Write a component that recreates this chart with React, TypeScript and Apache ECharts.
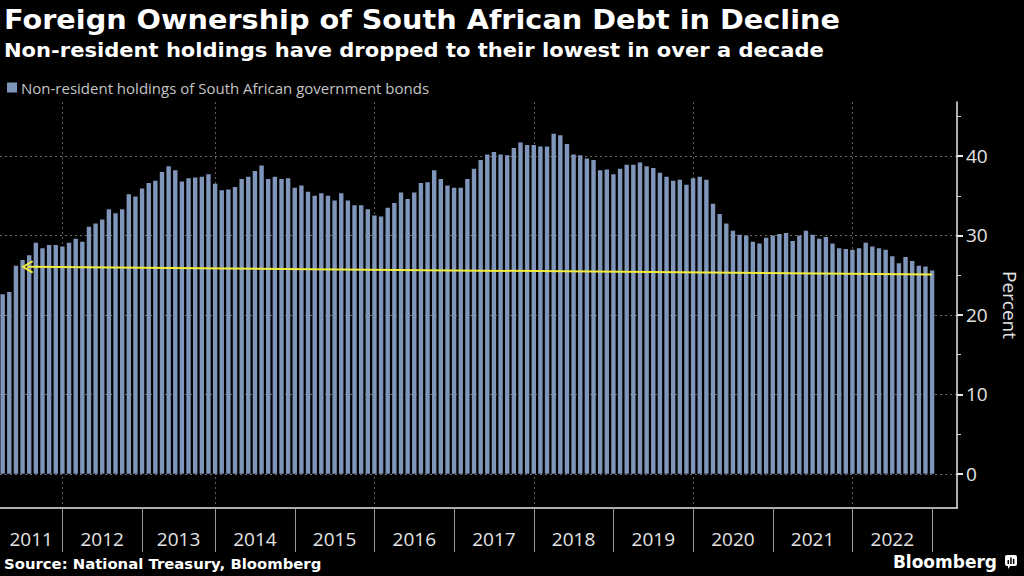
import React, { useEffect, useRef } from "react";
import * as echarts from "echarts";

// Calendar years shown on the axis and how many monthly readings fall in each
const years = [2011, 2012, 2013, 2014, 2015, 2016, 2017, 2018, 2019, 2020, 2021, 2022];
const barsPerYear = [10, 12, 11, 12, 12, 12, 12, 12, 12, 12, 12, 12];

// Non-resident holdings of South African government bonds, percent
const holdings = [
  22.6, 22.9, 26.2, 26.9, 27.5, 29.1, 28.4, 28.8, 28.8, 28.6,
  29.1, 29.6, 29.2, 31.1, 31.5, 32.0, 33.3, 32.8, 33.3, 35.2, 34.9, 35.9,
  36.6, 36.9, 38.0, 38.7, 38.2, 36.8, 37.2, 37.3, 37.4, 37.7, 36.5,
  35.7, 35.8, 36.1, 37.1, 37.4, 38.1, 38.8, 37.1, 37.4, 37.1, 37.2, 36.0,
  36.3, 35.5, 35.0, 35.3, 35.0, 34.4, 35.3, 34.4, 33.8, 33.8, 33.3, 32.5,
  32.4, 33.5, 34.1, 35.4, 34.6, 35.4, 36.6, 36.7, 38.2, 37.1, 36.3, 36.0,
  36.0, 37.1, 38.4, 39.5, 40.2, 40.5, 40.2, 40.1, 41.0, 41.7, 41.4, 41.4,
  41.2, 41.2, 42.8, 42.6, 41.5, 40.2, 40.1, 39.7, 39.5, 38.2, 38.3, 37.7,
  38.4, 38.9, 38.9, 39.2, 38.7, 38.5, 37.9, 37.4, 36.9, 37.0, 36.4, 37.2,
  37.4, 37.0, 34.0, 32.7, 31.5, 30.6, 30.1, 30.0, 29.2, 29.0, 29.7, 30.0,
  30.2, 30.3, 29.3, 30.0, 30.6, 30.1, 29.6, 29.8, 29.0, 28.4, 28.3, 28.2,
  28.4, 29.1, 28.6, 28.4, 28.2, 27.4, 26.5, 27.3, 26.8, 26.2, 26.1, 25.6,
];

const yLabelValues = [0, 10, 20, 30, 40];
const yMinorValues = [5, 15, 25, 35, 45];
const gridYears = [2012, 2014, 2016, 2018, 2020, 2022];

// Arrow drawn from the latest reading back to the 2011 level
const arrowStart = [141, 25.1];
const arrowEnd = [4.7, 26.05];

const X_MIN = 0.6;
const X_MAX = 144.75;

const TITLE = "Foreign Ownership of South African Debt in Decline";
const SUBTITLE = "Non-resident holdings have dropped to their lowest in over a decade";
const SERIES_NAME = "Non-resident holdings of South African government bonds";
const SOURCE = "Source: National Treasury, Bloomberg";

const BAR_COLOR = "#7f95ba";
const TEXT_COLOR = "#e4e4e4";

// Year boundaries sit on the last bar (December) of each year
const yearEnds: number[] = [];
barsPerYear.reduce((acc, n) => {
  yearEnds.push(acc + n);
  return acc + n;
}, 0);
const yearMids = yearEnds.map((end, i) => ((i === 0 ? X_MIN : yearEnds[i - 1]) + end) / 2);
const gridLineValues = gridYears.map((y) => yearEnds[years.indexOf(y) - 1]);

const CHEVRON = "path://M6.5,0 L13,11 L11.4,12.2 L6.5,3.8 L1.6,12.2 L0,11 Z";

export default function App() {
  const ref = useRef<HTMLDivElement>(null);

  useEffect(() => {
    document.body.style.margin = "0";
    document.body.style.background = "#000";
    const chart = echarts.init(ref.current!, undefined, { renderer: "svg" });

    const labelFont = "'Open Sans', sans-serif";
    const headFont = "'DejaVu Sans', sans-serif";

    chart.setOption({
      animation: false,
      backgroundColor: "#000",
      grid: { left: 0, right: 67, top: 102, bottom: 68, containLabel: false },
      legend: {
        show: true,
        left: 2,
        top: 75,
        icon: "rect",
        itemWidth: 10,
        itemHeight: 10,
        itemGap: 10,
        textStyle: { color: "#c4c4c4", fontSize: 15, fontFamily: labelFont, padding: [0, 0, 0, -1] },
        selectedMode: false,
        data: [SERIES_NAME],
      },
      xAxis: [
        {
          type: "value",
          min: X_MIN,
          max: X_MAX,
          position: "bottom",
          axisLine: { show: true, onZero: false, lineStyle: { color: "#e8e8e8", width: 1.5 } },
          axisTick: {
            show: true,
            customValues: yearEnds,
            length: 44,
            inside: false,
            lineStyle: { color: "#9a9a9a", width: 1 },
          },
          axisLabel: {
            show: true,
            customValues: yearMids,
            margin: 21,
            color: TEXT_COLOR,
            fontSize: 19,
            fontFamily: labelFont,
            formatter: (v: number) => {
              const idx = yearMids.findIndex((m) => Math.abs(m - v) < 0.01);
              return idx >= 0 ? String(years[idx]) : "";
            },
          },
          splitLine: { show: false },
        },
        {
          type: "value",
          min: X_MIN,
          max: X_MAX,
          position: "bottom",
          axisLine: { show: false },
          axisTick: { show: false, customValues: gridLineValues },
          axisLabel: { show: false, customValues: gridLineValues },
          splitLine: { show: true, lineStyle: { color: "#5e5e5e", width: 1, type: [2, 3] } },
        },
      ],
      yAxis: [
        {
          type: "value",
          position: "right",
          min: -4.3,
          max: 46.8,
          axisLine: { show: true, onZero: false, lineStyle: { color: "#e8e8e8", width: 1.5 } },
          axisTick: {
            show: true,
            customValues: yLabelValues,
            length: 6,
            lineStyle: { color: "#e8e8e8", width: 2 },
          },
          axisLabel: {
            show: true,
            customValues: yLabelValues,
            margin: 9,
            color: TEXT_COLOR,
            fontSize: 19,
            fontFamily: labelFont,
          },
          splitLine: { show: true, lineStyle: { color: "#6a6a6a", width: 1, type: [2, 3] } },
        },
        {
          type: "value",
          position: "right",
          min: -4.3,
          max: 46.8,
          axisLine: { show: false },
          axisTick: {
            show: true,
            customValues: yMinorValues,
            length: 4,
            lineStyle: { color: "#cfcfcf", width: 1 },
          },
          axisLabel: { show: false, customValues: yMinorValues },
          splitLine: { show: false },
        },
      ],
      series: [
        {
          name: SERIES_NAME,
          type: "bar",
          xAxisIndex: 0,
          yAxisIndex: 0,
          barWidth: 4.4,
          itemStyle: { color: BAR_COLOR },
          emphasis: { disabled: true },
          data: holdings.map((v, i) => [i + 1, v]),
          markLine: {
            silent: true,
            animation: false,
            label: { show: false },
            emphasis: { disabled: true },
            lineStyle: { color: "#f2ec3a", width: 2, type: "solid" },
            data: [
              [
                { coord: arrowStart, symbol: "none" },
                { coord: arrowEnd, symbol: CHEVRON, symbolSize: [13, 12] },
              ],
            ],
          },
        },
      ],
      graphic: [
        {
          type: "text",
          x: 4,
          y: 20,
          scaleX: 1.105,
          style: {
            text: TITLE,
            fill: "#ffffff",
            fontSize: 26,
            fontWeight: "bold",
            fontFamily: headFont,
            verticalAlign: "middle",
          },
        },
        {
          type: "text",
          x: 4,
          y: 50,
          scaleX: 1.08,
          style: {
            text: SUBTITLE,
            fill: "#ffffff",
            fontSize: 19.5,
            fontWeight: "bold",
            fontFamily: headFont,
            verticalAlign: "middle",
          },
        },
        {
          type: "text",
          x: 1010,
          y: 305,
          rotation: -Math.PI / 2,
          style: {
            text: "Percent",
            fill: TEXT_COLOR,
            fontSize: 19,
            fontFamily: labelFont,
            align: "center",
            verticalAlign: "middle",
          },
        },
        {
          type: "text",
          x: 4,
          y: 564,
          scaleX: 1.1,
          style: {
            text: SOURCE,
            fill: "#ffffff",
            fontSize: 13.5,
            fontWeight: "bold",
            fontFamily: headFont,
            verticalAlign: "middle",
          },
        },
        {
          type: "text",
          x: 997,
          y: 562,
          style: {
            text: "Bloomberg",
            fill: "#ffffff",
            fontSize: 17,
            fontWeight: "bold",
            fontFamily: headFont,
            align: "right",
            verticalAlign: "middle",
          },
        },
        {
          type: "group",
          x: 1005,
          y: 555,
          children: [
            { type: "rect", shape: { x: 0, y: 0, width: 12, height: 11, r: 2 }, style: { fill: "#ffffff" } },
            { type: "polygon", shape: { points: [[3, 10], [6, 10], [3, 14]] }, style: { fill: "#ffffff" } },
            { type: "rect", shape: { x: 2.5, y: 5, width: 1.5, height: 4 }, style: { fill: "#000" } },
            { type: "rect", shape: { x: 5.2, y: 2.5, width: 1.5, height: 6.5 }, style: { fill: "#000" } },
            { type: "rect", shape: { x: 7.9, y: 4, width: 1.5, height: 5 }, style: { fill: "#000" } },
          ],
        },
      ],
    });

    return () => chart.dispose();
  }, []);

  return <div ref={ref} style={{ width: 1024, height: 576, background: "#000" }} />;
}
